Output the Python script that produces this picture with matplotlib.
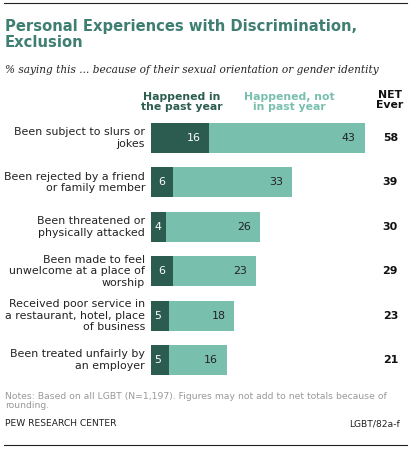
import matplotlib
matplotlib.use("Agg")
import matplotlib.pyplot as plt
from matplotlib.lines import Line2D

categories = [
    "Been subject to slurs or\njokes",
    "Been rejected by a friend\nor family member",
    "Been threatened or\nphysically attacked",
    "Been made to feel\nunwelcome at a place of\nworship",
    "Received poor service in\na restaurant, hotel, place\nof business",
    "Been treated unfairly by\nan employer",
]
past_year = [16, 6, 4, 6, 5, 5]
not_past_year = [43, 33, 26, 23, 18, 16]
net_ever = [58, 39, 30, 29, 23, 21]

dark = "#2b5c4f"
light = "#78bfae"
title_col = "#3e7f72"

W, H = 411, 450
fig = plt.figure(figsize=(W / 100, H / 100), dpi=100)

# axes placement in pixels
left_px, right_px = 151, 400
top_px, bot_px = 115.8, 382.2
ppu = 3.625  # pixels per percentage point
ax = fig.add_axes([left_px / W, 1 - bot_px / H, (right_px - left_px) / W, (bot_px - top_px) / H])
ax.set_xlim(0, (right_px - left_px) / ppu)
ax.set_ylim(len(categories) - 0.5, -0.5)
ax.axis("off")

bh = 0.675
ys = list(range(len(categories)))
ax.barh(ys, past_year, height=bh, color=dark)
ax.barh(ys, not_past_year, left=past_year, height=bh, color=light)

pad = 8 / ppu
fs = 7.9
for i, (a, b, n) in enumerate(zip(past_year, not_past_year, net_ever)):
    if a < 6:
        ax.text(1.0, i, str(a), ha="left", va="center", color="white", fontsize=fs)
    else:
        ax.text(a - pad, i, str(a), ha="right", va="center", color="white", fontsize=fs)
    ax.text(a + b - 9 / ppu, i, str(b), ha="right", va="center", color="#222222", fontsize=fs)
    ax.text((398 - left_px) / ppu, i, str(n), ha="right", va="center",
            color="#111111", fontsize=fs, fontweight="bold")
    ax.text(-6 / ppu, i, categories[i], ha="right", va="center", color="#222222",
            fontsize=fs, linespacing=1.2, clip_on=False)

# title block
fig.text(5 / W, 1 - 19 / H, "Personal Experiences with Discrimination,\nExclusion",
         ha="left", va="top", fontsize=10.6, fontweight="bold", color=title_col, linespacing=1.1)
fig.text(5 / W, 1 - 70 / H,
         "% saying this ... because of their sexual orientation or gender identity",
         ha="left", va="center", fontsize=7.6, style="italic", family="DejaVu Serif", color="#222222")

# column headers
fig.text(182 / W, 1 - 102 / H, "Happened in\nthe past year", ha="center", va="center",
         fontsize=7.8, fontweight="bold", color=dark, linespacing=1.1)
fig.text(289 / W, 1 - 102 / H, "Happened, not\nin past year", ha="center", va="center",
         fontsize=7.8, fontweight="bold", color=light, linespacing=1.1)
fig.text(390 / W, 1 - 100 / H, "NET\nEver", ha="center", va="center",
         fontsize=7.8, fontweight="bold", color="#111111", linespacing=1.1)

# notes and source
fig.text(5 / W, 1 - 401 / H,
         "Notes: Based on all LGBT (N=1,197). Figures may not add to net totals because of\nrounding.",
         ha="left", va="center", fontsize=6.7, color="#999999", linespacing=1.1)
fig.text(5 / W, 1 - 424 / H, "PEW RESEARCH CENTER", ha="left", va="center",
         fontsize=6.6, color="#222222")
fig.text(400 / W, 1 - 424 / H, "LGBT/82a-f", ha="right", va="center",
         fontsize=6.6, color="#222222")

# rules at top and bottom
for yp in (3, 445):
    fig.add_artist(Line2D([4 / W, 407 / W], [1 - yp / H, 1 - yp / H], color="#222222", lw=0.8))

fig.savefig("out.png", dpi=100)
